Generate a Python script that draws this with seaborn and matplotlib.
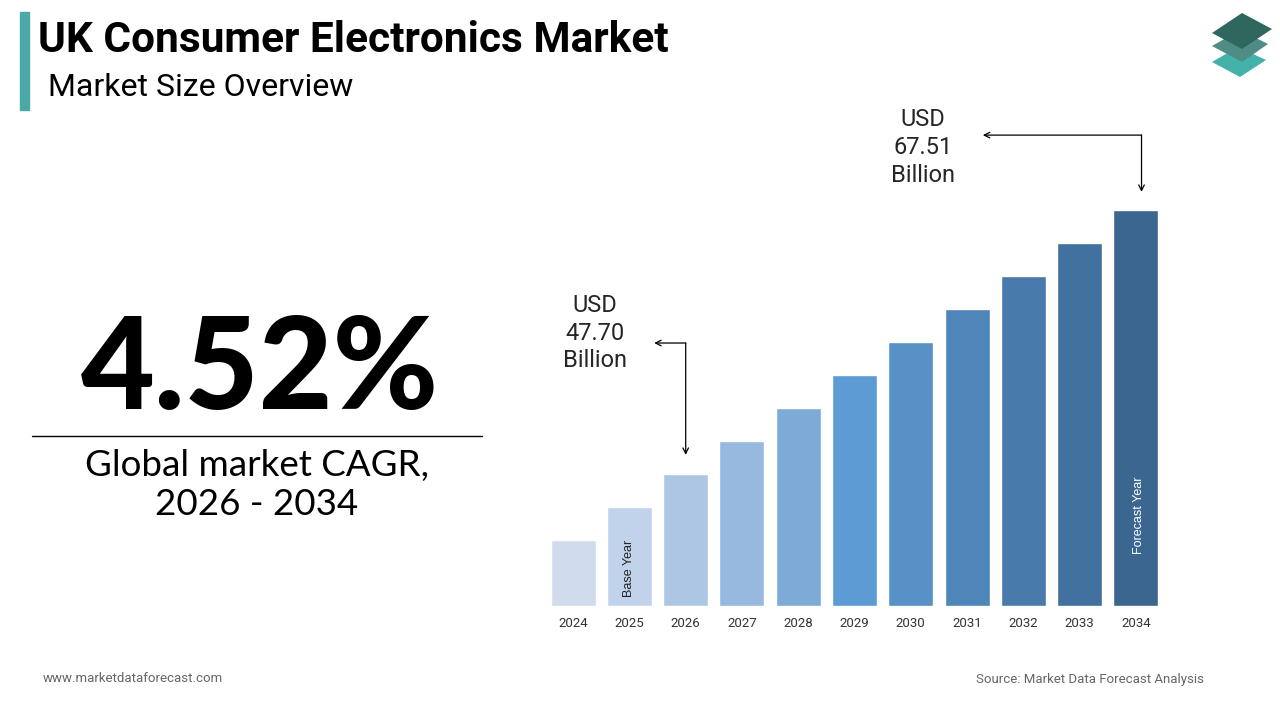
import matplotlib
matplotlib.use("Agg")
import matplotlib.pyplot as plt
from matplotlib.patches import Polygon, Rectangle
from matplotlib.lines import Line2D
import seaborn as sns

# chart data
years = ["2024", "2025", "2026", "2027", "2028", "2029",
         "2030", "2031", "2032", "2033", "2034"]
# bar heights as drawn (stylised, equal steps)
bar_heights = [2, 3, 4, 5, 6, 7, 8, 9, 10, 11, 12]
bar_colors = ["#cfdcee", "#c0d3ea", "#adc6e4", "#97b9df", "#7eaad8", "#5c9bd4",
              "#5791c6", "#4f86b9", "#487bac", "#41719e", "#3a6690"]

start_label = "USD\n47.70\nBillion"
end_label = "USD\n67.51\nBillion"
cagr_text = "4.52%"
cagr_caption = "Global market CAGR,\n2026 - 2034"

sns.set_style("white")
plt.rcParams["font.family"] = ["Roboto", "DejaVu Sans"]

fig = plt.figure(figsize=(12.8, 7.2), dpi=100)
ax = fig.add_axes([0.4258, 0.1583, 0.4836, 0.55])

sns.barplot(x=years, y=bar_heights, hue=years, palette=bar_colors,
            legend=False, saturation=1, width=0.8, ax=ax)

ax.set_ylim(0, 12)
ax.set_xlim(-0.5, 10.5)
ax.set(xlabel="", ylabel="", yticks=[])
ax.tick_params(axis="x", length=0, pad=8, labelsize=9.5, labelcolor="#333333")
sns.despine(ax=ax, left=True, bottom=True)

# labels inside the bars
ax.text(1.0, 1.15, "Base Year", rotation=90, ha="center", va="center",
        fontsize=9, color="#222222", family=["Liberation Sans", "DejaVu Sans"])
ax.text(10.05, 2.75, "Forecast Year", rotation=90, ha="center", va="center",
        fontsize=9, color="white", family=["Liberation Sans", "DejaVu Sans"])

# value call-outs with elbow arrows
arrow = dict(arrowstyle="->", color="black", lw=0.9, shrinkA=0, shrinkB=0)
ax.annotate("", xy=(1.44, 7.97), xytext=(2.0, 7.97), arrowprops=arrow,
            annotation_clip=False)
ax.annotate("", xy=(2.0, 4.58), xytext=(2.0, 7.97), arrowprops=arrow,
            annotation_clip=False)
ax.text(0.39, 8.27, start_label, ha="center", va="center", fontsize=17,
        linespacing=1.27)

ax.annotate("", xy=(7.28, 14.27), xytext=(10.1, 14.27), arrowprops=arrow,
            annotation_clip=False)
ax.annotate("", xy=(10.1, 12.55), xytext=(10.1, 14.27), arrowprops=arrow,
            annotation_clip=False)
ax.text(6.22, 13.9, end_label, ha="center", va="center", fontsize=17,
        linespacing=1.27)

# header
fig.patches.append(Rectangle((20 / 1280, 1 - 110 / 720), 9 / 1280, 98 / 720,
                             transform=fig.transFigure, color="#4aa9a6"))
fig.text(38 / 1280, 1 - 40 / 720, "UK Consumer Electronics Market",
         fontsize=30.5, fontweight="bold", va="center", color="black")
fig.text(48 / 1280, 1 - 88 / 720, "Market Size Overview",
         fontsize=23, va="center", color="black")

# logo
def px(points):
    return [(x / 1280, 1 - y / 720) for x, y in points]

for pts, col in [([(1212, 62), (1238, 47), (1266, 60), (1240, 77)], "#45b1ab"),
                 ([(1212, 46), (1240, 30), (1268, 44), (1242, 62)], "#4f8c86"),
                 ([(1212, 33), (1242, 13), (1272, 29), (1242, 49)], "#2f675f")]:
    fig.patches.append(Polygon(px(pts), closed=True, transform=fig.transFigure,
                               facecolor=col, edgecolor="none"))

# CAGR block
fig.text(260 / 1280, 1 - 372 / 720, cagr_text, fontsize=92, fontweight="black",
         ha="center", va="center", color="black", family=["Lato", "DejaVu Sans"])
fig.lines.append(Line2D([32 / 1280, 482 / 1280], [1 - 436 / 720, 1 - 436 / 720],
                        transform=fig.transFigure, color="black", lw=1))
fig.text(257 / 1280, 1 - 485 / 720, cagr_caption, fontsize=26.5, ha="center",
         va="center", linespacing=1.2, color="black",
         family=["Lato", "DejaVu Sans"])

# footer
fig.text(43 / 1280, 1 - 679 / 720, "www.marketdataforecast.com",
         fontsize=9.5, color="#666666", va="center")
fig.text(1204 / 1280, 1 - 679 / 720, "Source: Market Data Forecast Analysis",
         fontsize=9.5, color="#666666", va="center", ha="right")

fig.savefig("out.png", dpi=100)
